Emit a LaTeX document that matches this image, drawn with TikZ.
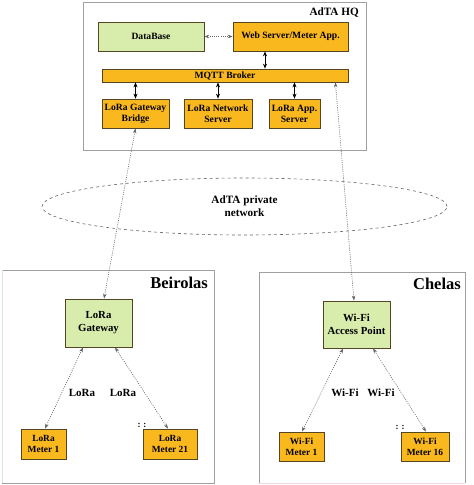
\documentclass[tikz,border=0pt]{standalone}
\usepackage{fontspec}
\setmainfont{Liberation Serif}
\usetikzlibrary{arrows.meta,shapes.geometric}
\definecolor{boxorange}{RGB}{249,184,30}
\definecolor{boxgreen}{RGB}{216,236,172}
\definecolor{boxline}{RGB}{85,70,35}
\definecolor{framegray}{RGB}{160,160,160}
\definecolor{framepink}{RGB}{245,215,225}
\begin{document}
\begin{tikzpicture}[x=1pt,y=-1pt,
  every node/.style={font=\bfseries},
  obox/.style={draw=boxline,fill=boxorange,line width=0.7pt,inner sep=0pt,align=center,font=\bfseries\fontsize{9.6}{11}\selectfont},
  gbox/.style={draw=boxline,fill=boxgreen,line width=0.7pt,inner sep=0pt,align=center,font=\bfseries\fontsize{9.6}{11}\selectfont},
  bigbox/.style={draw=boxline,fill=boxgreen,line width=0.8pt,inner sep=0pt,align=center,font=\bfseries\fontsize{10.8}{13}\selectfont},
  mbox/.style={draw=boxline,fill=boxorange,line width=0.8pt,inner sep=0pt,align=center,font=\bfseries\fontsize{9.4}{11}\selectfont},
  frame/.style={draw=framegray,line width=1pt},
  title/.style={anchor=east,inner sep=0pt,font=\bfseries\fontsize{16.5}{18}\selectfont},
  dotlink/.style={draw=gray!80!black,line width=0.6pt,dash pattern=on 1pt off 1.2pt,{Stealth[length=5pt,width=3.5pt,fill=black]}-{Stealth[length=5pt,width=3.5pt,fill=black]}},
  solidlink/.style={draw=black,line width=0.8pt,{Stealth[length=5pt,width=4pt]}-{Stealth[length=5pt,width=4pt]}},
  lbl/.style={inner sep=0pt,font=\bfseries\fontsize{11}{13}\selectfont},
  dots/.style={inner sep=0pt,font=\bfseries\fontsize{9}{11}\selectfont}
]
\useasboundingbox (0,0) rectangle (474,485);
% frames
\draw[frame] (83,2) rectangle (366,150);
\draw[frame] (2,270) -- (214,270) -- (214,483) -- (2,483);
\draw[framepink,line width=1pt] (2,270) -- (2,483);
\draw[frame] (259,483) -- (259,272) -- (465,272) -- (465,483);
\draw[framepink,line width=1pt] (259,483) -- (465,483);
\node[anchor=east,inner sep=0pt,font=\bfseries\fontsize{11.2}{13}\selectfont] (hqlabel) at (359,13) {AdTA HQ};
\node[title] (blabel) at (208,283) {Beirolas};
\node[title] (clabel) at (461,284) {Chelas};
% HQ nodes
\node[gbox,minimum width=106pt,minimum height=29pt] (db) at (151,36.5) {DataBase};
\node[obox,minimum width=115pt,minimum height=29pt] (web) at (290.5,36.5) {Web Server/Meter App.};
\node[obox,minimum width=246pt,minimum height=13pt] (mqtt) at (225,75.5) {MQTT Broker};
\node[obox,minimum width=67pt,minimum height=29pt] (bridge) at (135.5,113.5) {LoRa Gateway\\Bridge};
\node[obox,minimum width=68pt,minimum height=29pt] (nets) at (218,113.5) {LoRa Network\\Server};
\node[obox,minimum width=51pt,minimum height=29pt] (apps) at (294.5,113.5) {LoRa App.\\Server};
% network ellipse
\node[ellipse,draw=gray!80!black,dashed,line width=0.6pt,minimum width=405pt,minimum height=57pt,inner sep=0pt,align=center,font=\bfseries\fontsize{11.2}{13}\selectfont] (net) at (244.5,206.5) {AdTA private\\network};
% Beirolas
\node[bigbox,minimum width=67pt,minimum height=48pt] (gw) at (98.5,323) {LoRa\\Gateway};
\node[mbox,minimum width=45pt,minimum height=30pt] (lm1) at (43.5,444) {LoRa\\Meter 1};
\node[mbox,minimum width=54pt,minimum height=30pt] (lm21) at (170,444) {LoRa\\Meter 21};
% Chelas
\node[bigbox,minimum width=67pt,minimum height=47pt] (ap) at (356.5,324.5) {Wi-Fi\\Access Point};
\node[mbox,minimum width=45pt,minimum height=29pt] (wm1) at (301.5,446.5) {Wi-Fi\\Meter 1};
\node[mbox,minimum width=48pt,minimum height=29pt] (wm16) at (425,446.5) {Wi-Fi\\Meter 16};
% labels
\node[lbl] (l1) at (82,393) {LoRa};
\node[lbl] (l2) at (123,393) {LoRa};
\node[lbl] (w1) at (345,393) {Wi-Fi};
\node[lbl] (w2) at (381,393) {Wi-Fi};
\node[dots] (d1) at (142,425) {: :};
\node[dots] (d2) at (400,427) {: :};
% connectors HQ
\draw[dotlink] (db) -- (web);
\coordinate (wa) at ([xshift=-25.5pt]web.south);
\draw[solidlink] (wa) -- (wa |- mqtt.north);
\draw[solidlink] (bridge.north) -- (bridge.north |- mqtt.south);
\draw[solidlink] (nets.north) -- (nets.north |- mqtt.south);
\draw[solidlink] (apps.north) -- (apps.north |- mqtt.south);
% long links
\draw[dotlink] (bridge.south) -- ([xshift=5.5pt]gw.north);
\draw[dotlink] ([xshift=-13pt]mqtt.south east) -- ([xshift=-2.5pt]ap.north);
% meter links
\draw[dotlink] ([xshift=-15.5pt]gw.south) -- ([xshift=1.5pt]lm1.north);
\draw[dotlink] ([xshift=16.5pt]gw.south) -- ([xshift=-2pt]lm21.north);
\draw[dotlink] ([xshift=-13.5pt]ap.south) -- ([xshift=0.5pt]wm1.north);
\draw[dotlink] ([xshift=16.5pt]ap.south) -- ([xshift=1pt]wm16.north);
\end{tikzpicture}
\end{document}
